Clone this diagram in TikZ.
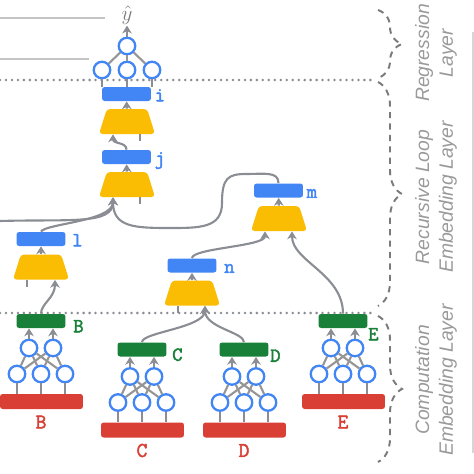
\documentclass[tikz,border=0pt]{standalone}
\usepackage{fontspec}
\usepackage{tikz}
\usetikzlibrary{arrows.meta,positioning,shapes.geometric,calc,decorations.pathreplacing}
\newfontfamily\sidefont{Liberation Sans}
\newfontfamily\tagfont[AutoFakeBold=2]{Latin Modern Mono}
\definecolor{embblue}{HTML}{4285F4}
\definecolor{aggyellow}{HTML}{FBBC04}
\definecolor{compgreen}{HTML}{188038}
\definecolor{featred}{HTML}{D93F35}
\definecolor{linkgray}{HTML}{8A8D93}
\definecolor{netgray}{HTML}{959595}
\definecolor{guidegray}{HTML}{7A7A7A}
\definecolor{notegray}{HTML}{9A9A9A}
\definecolor{edgegray}{HTML}{C4C4C4}

\begin{document}
\begin{tikzpicture}[
        x=0.02cm, y=-0.02cm,
        emb/.style={
            fill=embblue,
            rounded corners=1.5pt,
            minimum width=0.98cm,
            minimum height=0.28cm,
            inner sep=0pt
        },
        comp/.style={emb, fill=compgreen},
        feat/.style={
            fill=featred,
            rounded corners=1.5pt,
            minimum width=1.66cm,
            minimum height=0.3cm,
            inner sep=0pt
        },
        agg/.style={
            trapezium,
            trapezium stretches=true,
            trapezium left angle=79,
            trapezium right angle=79,
            fill=aggyellow,
            rounded corners=2pt,
            minimum width=1.12cm,
            minimum height=0.5cm,
            inner sep=1pt
        },
        neuron/.style={circle, draw=embblue, line width=1.3pt, fill=white, minimum size=0.33cm, inner sep=0pt},
        link/.style={draw=netgray, line width=1.2pt},
        stub/.style={draw=linkgray, line width=1.2pt},
        flow/.style={stub, -{Stealth[length=4.5pt,width=5.5pt]}},
        layerline/.style={draw=linkgray, line width=1.6pt, line cap=round, dash pattern=on 0pt off 3.4pt},
        layerbrace/.style={draw=guidegray, line width=1.1pt, dash pattern=on 3.5pt off 3pt,
            decorate, decoration={brace, amplitude=0.48cm}},
        layername/.style={text=notegray, rotate=90, align=center,
            font=\sidefont\itshape\fontsize{11}{13.6}\selectfont},
        embname/.style={text=embblue, anchor=base west, inner sep=0pt,
            font=\tagfont\bfseries\fontsize{11.5}{11.5}\selectfont},
        compname/.style={embname, text=compgreen},
        featname/.style={text=featred, inner sep=0pt,
            font=\tagfont\bfseries\fontsize{12}{12}\selectfont}
    ]
        \useasboundingbox (0,0) rectangle (474,474);

        % regression layer
        \node[neuron] (ro) at (127,46) {};
        \node[neuron] (r1) at (102,70) {};
        \node[neuron] (r2) at (127,70) {};
        \node[neuron] (r3) at (152,70) {};
        \node[text=guidegray, inner sep=0.5pt, font=\fontsize{13}{13}\selectfont] (yhat) at (127,15) {$\hat{y}$};

        % recursive loop
        \node[emb] (i) at (126.5,94) {};
        \node[agg] (ti) at (127,121.5) {};
        \node[emb] (j) at (126.5,157) {};
        \node[agg] (tj) at (127,184.5) {};
        \node[emb] (l) at (41,239) {};
        \node[agg] (tl) at (41,267) {};
        \node[emb] (m) at (278.5,190.5) {};
        \node[agg] (tm) at (279,218.5) {};
        \node[emb] (n) at (192,265.5) {};
        \node[agg] (tn) at (192,293) {};

        \node[embname] (i-name) at ($(i.south east)+(3,0)$) {i};
        \node[embname] (j-name) at ($(j.south east)+(3,0)$) {j};
        \node[embname] (l-name) at ($(l.south east)+(6,0)$) {l};
        \node[embname] (m-name) at ($(m.south east)+(3,0)$) {m};
        \node[embname] (n-name) at ($(n.south east)+(7,0)$) {n};

        \coordinate (ti-in) at ($(ti.south)+(-14,0)$);
        \coordinate (tj-in) at ($(tj.south)+(-14,0)$);
        \coordinate (tl-in) at ($(tl.south)+(14,0)$);
        \coordinate (tn-in) at ($(tn.south)+(13,0)$);
        \coordinate (tm-inl) at ($(tm.south)+(-14,0)$);
        \coordinate (tm-inr) at ($(tm.south)+(13,0)$);
        \coordinate (loop-in) at (0,221);

        % computation stacks
        \foreach \s/\x/\y/\dx/\dy in {B/41/321/7/4, C/142/349.5/5/4, D/244/349.5/1/5, E/343/321/0/12} {
            \node[comp] (\s) at (\x,\y) {};
            \node[neuron] (\s-h1) at (\x-12,\y+27) {};
            \node[neuron] (\s-h2) at (\x+12,\y+27) {};
            \node[neuron] (\s-x1) at (\x-24,\y+53) {};
            \node[neuron] (\s-x2) at (\x,\y+53) {};
            \node[neuron] (\s-x3) at (\x+24,\y+53) {};
            \node[feat] (\s-in) at (\x+0.5,\y+80.5) {};
            \node[compname] (\s-name) at ($(\s.south east)+(\dx,\dy)$) {\s};
            \node[featname] (\s-feat) at (\x,\y+101) {\s};
            \foreach \a in {1,2,3} {
                \draw[link] (\s-x\a) -- (\s-h1);
                \draw[link] (\s-x\a) -- (\s-h2);
                \draw[stub] (\s-x\a.south) -- (\s-x\a.south |- \s-in.north);
            }
            \draw[flow] (\s-h1.north) -- (\s-h1.north |- \s.south);
            \draw[flow] (\s-h2.north) -- (\s-h2.north |- \s.south);
        }

        % regression links
        \draw[flow] (ro) -- (yhat);
        \foreach \r in {r1,r2,r3} {
            \draw[link] (ro) -- (\r);
            \draw[stub] (\r.south) -- (\r.south |- i.north);
        }

        % aggregation links
        \draw[flow] (ti) -- (i);
        \draw[flow] (tj) -- (j);
        \draw[flow] (tl) -- (l);
        \draw[flow] (tm) -- (m);
        \draw[flow] (tn) -- (n);
        \draw[stub] ($(ti.south)+(13,0)$) -- ++(0,7);
        \draw[stub] ($(tj.south)+(13,0)$) -- ++(0,7);
        \draw[stub] ($(tl.south)+(-14,0)$) -- ++(0,7);
        \draw[stub] ($(tn.south)+(-14,0)$) -- ++(0,7);

        \draw[flow] (j.north) .. controls +(0,-8) and +(0,10) .. (ti-in);
        \draw[flow] (loop-in) .. controls (70,219) and (113,225) .. (tj-in);
        \draw[flow] (l.north) .. controls +(4,-8) and +(0,24) .. (tj-in);
        \draw[flow] (m.north) .. controls +(0,-12) and +(18,0) .. (246,174)
            .. controls +(-18,0) and +(0,-25) .. (222,203)
            .. controls +(0,25) and +(30,0) .. (170,228)
            .. controls +(-35,0) and +(0,30) .. (tj-in);
        \draw[flow] (B.north) .. controls +(0,-10) and +(0,18) .. (tl-in);
        \draw[flow] (C.north) .. controls +(0,-10) and +(0,22) .. (tn-in);
        \draw[flow] (D.north) .. controls +(0,-10) and +(0,22) .. (tn-in);
        \draw[flow] (n.north) .. controls +(0,-10) and +(0,15) .. (tm-inl);
        \draw[flow] (E.north) .. controls +(0,-40) and +(0,30) .. (tm-inr);

        % layer borders
        \draw[layerline] (0,80) -- (376,80);
        \draw[layerline] (0,313) -- (376,313);
        \draw[edgegray, line width=1.2pt] (0,18) -- (105,18);
        \draw[edgegray, line width=1.2pt] (0,59) -- (89,59);
        \draw[edgegray!70, line width=0.8pt] (473,32) -- (473,453);

        \draw[layerbrace] (378,10) -- (378,78);
        \draw[layerbrace] (378,82) -- (378,306);
        \draw[layerbrace] (378,316) -- (378,462);

        \node[layername] (reg-title) at (436,53) {Regression\\Layer};
        \node[layername] (loop-title) at (436,197) {Recursive Loop\\Embedding Layer};
        \node[layername] (comp-title) at (436,380) {Computation\\Embedding Layer};
    \end{tikzpicture}
\end{document}
